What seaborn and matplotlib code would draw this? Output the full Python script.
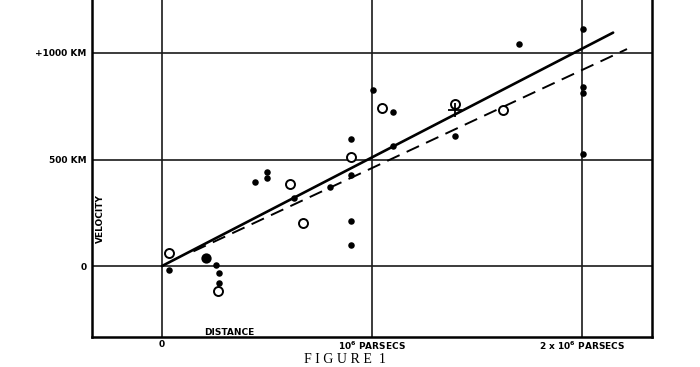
"""
Hubble 1929 velocity-distance diagram (Figure 1), redrawn with seaborn.
"""

import numpy as np
import pandas as pd
import matplotlib
matplotlib.use("Agg")
import matplotlib.pyplot as plt
import seaborn as sns

# --- data (distance in Mpc, velocity in km/s) ---
single_dist = [0.033, 0.259, 0.271, 0.271, 0.444, 0.498, 0.498, 0.63, 0.80,
               0.90, 0.90, 0.90, 0.90, 1.003, 1.101, 1.101, 1.397, 1.702,
               2.003, 2.003, 2.003, 2.003]
single_vel = [-19, 5, -34, -78, 396, 443, 412, 318, 372,
              595, 427, 213, 99, 826, 723, 563, 610, 1042,
              1111, 842, 811, 526]

big_dist = [0.208]
big_vel = [39]

group_dist = [0.033, 0.268, 0.611, 0.67, 0.90, 1.049, 1.397, 1.625]
group_vel = [59, -117, 385, 203, 513, 740, 761, 732]

cross_dist = [1.397]
cross_vel = [732]

# fitted lines: slope (km/s per Mpc) and distance range
solid_slope, solid_range = 510, [0.0, 2.148]
dashed_slope, dashed_range = 460, [0.15, 2.214]

ytick_vals = [0, 500, 1000]
ytick_labels = ["0", "500 KM", "+1000 KM"]
xtick_vals = [0, 1, 2]
xtick_labels = ["0", "10$^{\\mathbf{6}}$ PARSECS", "2 x 10$^{\\mathbf{6}}$ PARSECS"]

singles = pd.DataFrame({"dist": single_dist, "vel": single_vel})
groups = pd.DataFrame({"dist": group_dist, "vel": group_vel})
solid = pd.DataFrame({"dist": solid_range})
solid["vel"] = solid_slope * solid["dist"]
dashed = pd.DataFrame({"dist": dashed_range})
dashed["vel"] = dashed_slope * dashed["dist"]

sns.set_style("white")
plt.rcParams["font.family"] = ["DejaVu Sans"]
plt.rcParams["text.color"] = "black"
plt.rcParams["xtick.color"] = "black"
plt.rcParams["ytick.color"] = "black"

fig = plt.figure(figsize=(7.0, 3.67), dpi=100)
ax = fig.add_axes([0.1314, 0.0817, 0.80, 0.9673])

# grid
for xv in xtick_vals:
    ax.axvline(xv, color="#1a1a1a", lw=1.2, zorder=1)
for yv in ytick_vals:
    ax.axhline(yv, color="#1a1a1a", lw=1.2, zorder=1)

sns.lineplot(data=solid, x="dist", y="vel", ax=ax, color="black", lw=1.9,
             zorder=3)
sns.lineplot(data=dashed, x="dist", y="vel", ax=ax, color="black", lw=1.4,
             zorder=3)
ax.lines[-1].set_dashes([7, 4])

sns.scatterplot(data=singles, x="dist", y="vel", ax=ax, color="black",
                s=22, linewidth=0, zorder=4)
sns.scatterplot(x=big_dist, y=big_vel, ax=ax, color="black", s=55,
                linewidth=0, zorder=4)
sns.scatterplot(data=groups, x="dist", y="vel", ax=ax, facecolor="white",
                edgecolor="black", s=42, linewidth=1.4, zorder=5)
sns.scatterplot(x=cross_dist, y=cross_vel, ax=ax, marker="+", color="black",
                s=110, linewidth=1.3, zorder=6)

ax.set_xlim(-0.333, 2.333)
ax.set_ylim(-333, 1333)
ax.set_xticks(xtick_vals)
ax.set_xticklabels(xtick_labels, fontsize=6.5, fontweight="bold")
ax.set_yticks(ytick_vals)
ax.set_yticklabels(ytick_labels, fontsize=6.5, fontweight="bold")
ax.tick_params(axis="x", length=0, pad=2)
ax.tick_params(axis="y", length=0, pad=4)
ax.set_xlabel("")
ax.set_ylabel("")

for side in ["left", "bottom", "right"]:
    ax.spines[side].set_linewidth(1.8)
    ax.spines[side].set_color("black")
ax.spines["top"].set_visible(False)

ax.text(-0.295, 225, "VELOCITY", rotation=90, ha="center", va="center",
        fontsize=6.5, fontweight="bold")
ax.text(0.32, -312, "DISTANCE", ha="center", va="center",
        fontsize=6.5, fontweight="bold")

fig.text(0.493, 0.002, "F I G U R E  1", ha="center", va="bottom",
         fontsize=10, family="Liberation Serif")

fig.savefig("out.png", dpi=100)
plt.close(fig)
